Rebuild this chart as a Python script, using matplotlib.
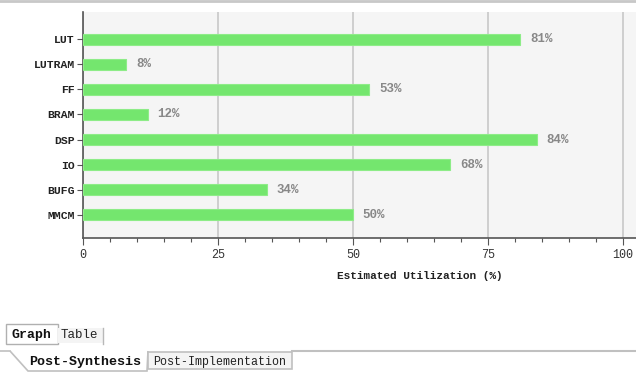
import matplotlib
matplotlib.use("Agg")
import matplotlib.pyplot as plt
from matplotlib.lines import Line2D
from matplotlib.patches import Rectangle, Polygon

resources = ["LUT", "LUTRAM", "FF", "BRAM", "DSP", "IO", "BUFG", "MMCM"]
utilization = [81, 8, 53, 12, 84, 68, 34, 50]
major_ticks = [0, 25, 50, 75, 100]

W, H = 636, 378
fig = plt.figure(figsize=(W / 100, H / 100), dpi=100)
fig.patch.set_facecolor("white")
mono = ["Liberation Mono", "DejaVu Sans Mono"]


def fx(px):
    return px / W


def fy(py):
    return 1 - py / H


# plot area
ax = fig.add_axes([fx(83), fy(238), fx(636 - 83), fy(12) - fy(238)])
ax.set_facecolor("#f5f5f5")
ypos = list(range(len(resources)))
ax.barh(ypos, utilization, height=0.44, color="#74e66e", edgecolor="#8eec88",
        linewidth=0.8, zorder=3)
for y, v in zip(ypos, utilization):
    ax.text(v + 1.8, y, f"{v}%", va="center", ha="left", fontsize=9,
            fontweight="bold", color="#888888", family=mono, zorder=4)

ax.set_xlim(0, 102.4)
ax.set_ylim(len(resources) - 0.08, -1.08)
ax.set_yticks(ypos)
ax.set_yticklabels(resources, family=mono, fontsize=8.2, fontweight="bold", color="#222222")
ax.set_xticks(major_ticks)
ax.set_xticklabels([str(t) for t in major_ticks], family=mono, fontsize=8.5, color="#333333")
ax.set_xticks(range(0, 101, 5), minor=True)
ax.tick_params(axis="x", which="major", length=5, width=0.8, color="#555555", pad=3)
ax.tick_params(axis="x", which="minor", length=3, width=0.8, color="#555555")
ax.tick_params(axis="y", length=4, width=0.8, color="#555555", pad=2)
ax.grid(axis="x", which="major", color="#c8c8c8", linewidth=1.2, zorder=1)
for s in ["top", "right"]:
    ax.spines[s].set_visible(False)
for s in ["left", "bottom"]:
    ax.spines[s].set_color("#555555")
    ax.spines[s].set_linewidth(1.2)

fig.text(fx(420), fy(276), "Estimated Utilization (%)", ha="center", va="center",
         family=mono, fontsize=8, fontweight="bold", color="#222222")

# top border
fig.add_artist(Line2D([0, 1], [fy(1), fy(1)], color="#c8c8c8", linewidth=2))

# Graph / Table tabs
fig.add_artist(Rectangle((fx(6), fy(344)), fx(52), fy(324) - fy(344),
                         facecolor="white", edgecolor="#b0b0b0", linewidth=1))
fig.add_artist(Line2D([fx(103), fx(103)], [fy(328), fy(344)], color="#b8b8b8", linewidth=1))
fig.text(fx(32), fy(335), "Graph", ha="center", va="center", family=mono,
         fontsize=9.5, fontweight="bold", color="#111111")
fig.add_artist(Rectangle((fx(58), fy(343)), fx(45), fy(328) - fy(343),
                         facecolor="#f4f4f4", edgecolor="none"))
fig.text(fx(79), fy(335), "Table", ha="center", va="center", family=mono,
         fontsize=9, color="#222222")

# Post-Synthesis / Post-Implementation tabs
fig.add_artist(Line2D([fx(0), fx(10)], [fy(351), fy(351)], color="#c0c0c0", linewidth=1.2))
fig.add_artist(Polygon([(fx(10), fy(351)), (fx(28), fy(371)), (fx(147), fy(371)),
                        (fx(148), fy(351))], closed=False, facecolor="white",
                       edgecolor="#c0c0c0", linewidth=1.2))
fig.add_artist(Polygon([(fx(148), fy(369)), (fx(148), fy(352)), (fx(292), fy(352)),
                        (fx(292), fy(369))], closed=True, facecolor="#f4f4f4",
                       edgecolor="#c0c0c0", linewidth=1.2))
fig.add_artist(Line2D([fx(292), fx(636)], [fy(351), fy(351)], color="#c0c0c0", linewidth=1.5))
fig.text(fx(85), fy(362), "Post-Synthesis", ha="center", va="center", family=mono,
         fontsize=9.6, fontweight="bold", color="#111111")
fig.text(fx(220), fy(362), "Post-Implementation", ha="center", va="center", family=mono,
         fontsize=8.4, color="#222222")

fig.savefig("out.png", dpi=100, facecolor="white")
